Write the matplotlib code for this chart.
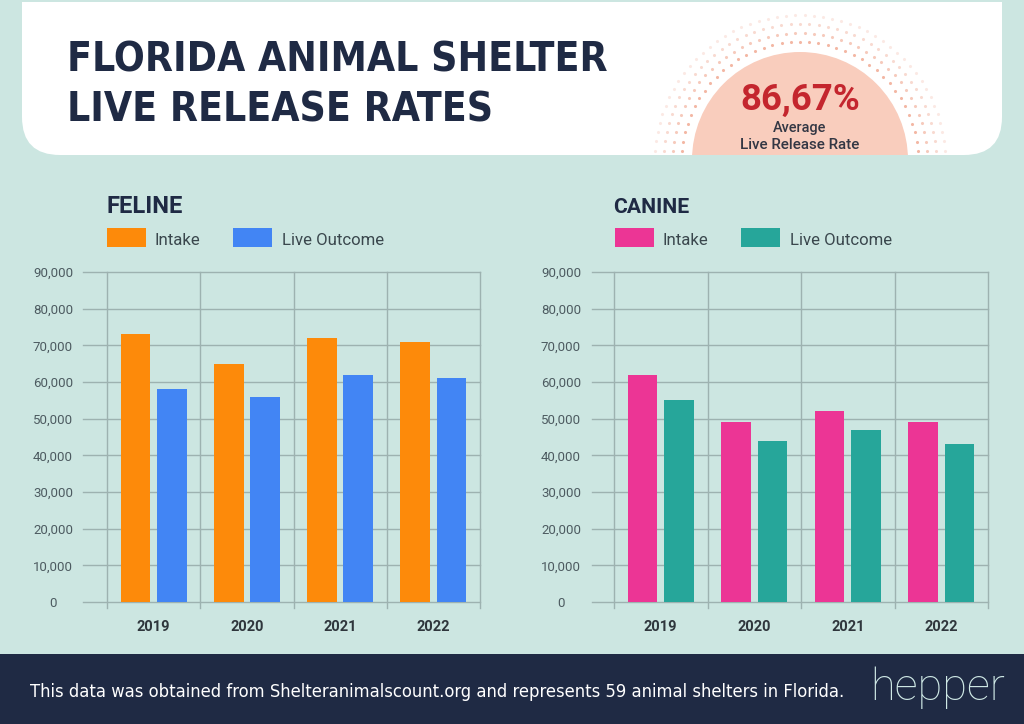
import matplotlib
matplotlib.use('Agg')
import matplotlib.pyplot as plt
import numpy as np
from matplotlib.patches import FancyBboxPatch, Rectangle, Circle

# ---------------- data ----------------
years = ['2019', '2020', '2021', '2022']
feline_intake = [73000, 65000, 72000, 71000]
feline_live = [58000, 56000, 62000, 61000]
canine_intake = [62000, 49000, 52000, 49000]
canine_live = [55000, 44000, 47000, 43000]
y_ticks = [0, 10000, 20000, 30000, 40000, 50000, 60000, 70000, 80000, 90000]
series_labels = ['Intake', 'Live Outcome']
title_lines = ['FLORIDA ANIMAL SHELTER', 'LIVE RELEASE RATES']
avg_rate = '86,67%'
footer = 'This data was obtained from Shelteranimalscount.org and represents 59 animal shelters in Florida.'

# ---------------- style ----------------
W, H = 1024, 724
BG = '#cce6e1'
NAVY = '#1f2a44'
ORANGE = '#fd8a0a'
BLUE = '#4285f4'
PINK = '#ec3595'
TEAL = '#26a69a'
GRID = '#9db2b0'
COND = ['DejaVu Sans']
BODY = ['Roboto', 'DejaVu Sans']

fig = plt.figure(figsize=(W / 100, H / 100), dpi=100)
fig.patch.set_facecolor(BG)
bg = fig.add_axes([0, 0, 1, 1], zorder=0)
bg.set_xlim(0, W)
bg.set_ylim(H, 0)
bg.axis('off')

renderer = fig.canvas.get_renderer()


def fit(t, target_w):
    bb = t.get_window_extent(renderer=renderer)
    t.set_fontsize(t.get_fontsize() * target_w / bb.width)
    return t


# header box
header = FancyBboxPatch((22, -80), 980, 235, boxstyle='round,pad=0,rounding_size=38',
                        fc='white', ec='none', zorder=1)
bg.add_patch(header)
bg.add_patch(Rectangle((0, 0), W, 1.5, fc=BG, ec='none', zorder=2))

# badge
cx, cy, r0 = 800, 160, 108
circ = Circle((cx, cy), r0, fc='#f9cdbd', ec='none', zorder=2)
bg.add_patch(circ)
circ.set_clip_path(header)
for k, (rr, al) in enumerate([(118, 0.75), (127, 0.55), (136, 0.38), (145, 0.22)]):
    n = int(np.pi * rr / 9)
    th = np.linspace(0, np.pi, n)
    sc = bg.scatter(cx + rr * np.cos(th), cy - rr * np.sin(th), s=5, c='#ef9f86',
                    alpha=al, linewidths=0, zorder=2)
    sc.set_clip_path(header)

t = bg.text(800, 110, avg_rate, color='#c4262e', fontsize=26, fontweight='bold',
            family=BODY, ha='center', va='baseline', zorder=3)
fit(t, 120)
t = bg.text(800, 132, 'Average', color='#333744', fontsize=9.5, fontweight='medium',
            family=BODY, ha='center', va='baseline', zorder=3)
fit(t, 54)
t = bg.text(800, 149, 'Live Release Rate', color='#333744', fontsize=9.5, fontweight='medium',
            family=BODY, ha='center', va='baseline', zorder=3)
fit(t, 120)

# title
t1 = bg.text(67, 72, title_lines[0], color=NAVY, fontsize=34, fontweight='bold',
             fontstretch='condensed', family=COND, ha='left', va='baseline', zorder=3)
fit(t1, 540)
t2 = bg.text(67, 122, title_lines[1], color=NAVY, fontsize=t1.get_fontsize(), fontweight='bold',
             fontstretch='condensed', family=COND, ha='left', va='baseline', zorder=3)

# footer
bg.add_patch(Rectangle((0, 654), W, 70, fc=NAVY, ec='none', zorder=1))
t = bg.text(30, 697, footer, color='white', fontsize=12, family=COND, fontstretch='condensed',
            ha='left', va='baseline', zorder=3)
fit(t, 815)
t = bg.text(870, 700, 'hepper', color='#cfe9e6', fontsize=34, fontweight='light',
            family=BODY, ha='left', va='baseline', zorder=3)
fit(t, 135)


def panel(name, x_left, grid_left, x_right, intake, live, colors, label_cx, legend_x):
    # title and legend
    t = bg.text(x_left - 1, 213, name, color=NAVY, fontsize=16, fontweight='bold',
                family=BODY, ha='left', va='baseline', zorder=3)
    fit(t, 76)
    lx = legend_x
    bg.add_patch(Rectangle((lx[0], 228), 39, 19, fc=colors[0], ec='none', zorder=3))
    bg.add_patch(Rectangle((lx[1], 228), 39, 19, fc=colors[1], ec='none', zorder=3))
    ta = bg.text(lx[0] + 48, 245, series_labels[0], color='#3a474d', fontsize=11,
                 family=BODY, ha='left', va='baseline', zorder=3)
    tb = bg.text(lx[1] + 49, 245, series_labels[1], color='#3a474d', fontsize=11,
                 family=BODY, ha='left', va='baseline', zorder=3)
    fit(tb, 102)
    ta.set_fontsize(tb.get_fontsize())

    top_px, zero_px, bot_px = 272, 602, 608
    ax = fig.add_axes([grid_left / W, 1 - bot_px / H, (x_right - grid_left) / W,
                       (bot_px - top_px) / H], zorder=2)
    ax.patch.set_alpha(0)
    cat_w = (x_right - x_left) / 4
    ax.set_xlim(-0.5 - (x_left - grid_left) / cat_w, 3.5)
    ymax = y_ticks[-1]
    ax.set_ylim(-(bot_px - zero_px) * ymax / (zero_px - top_px), ymax)
    for s in ax.spines.values():
        s.set_visible(False)
    for yv in y_ticks:
        ax.axhline(yv, color=GRID, lw=1, zorder=1, clip_on=False)
    for xv in np.arange(-0.5, 4, 1):
        ax.axvline(xv, color=GRID, lw=1, zorder=1, clip_on=False)
    x = np.arange(len(years))
    ax.bar(x - 0.195, intake, width=0.32, color=colors[0], zorder=2)
    ax.bar(x + 0.195, live, width=0.32, color=colors[1], zorder=2)
    ax.set_yticks(y_ticks)
    ax.set_yticklabels([f'{v:,}' for v in y_ticks])
    pad_pt = (grid_left - label_cx) * 0.72
    ax.tick_params(axis='y', length=0, pad=pad_pt, labelsize=9.5, labelcolor='#4d5b61')
    for lab in ax.get_yticklabels():
        lab.set_ha('center')
        lab.set_family(BODY)
    ax.set_xticks(x)
    ax.set_xticklabels(years)
    ax.tick_params(axis='x', length=0, pad=19 * 0.72, labelsize=10.5, labelcolor='#2f363c')
    for lab in ax.get_xticklabels():
        lab.set_va('center')
        lab.set_fontweight('bold')
        lab.set_family(BODY)
    return ax


panel('FELINE', 107, 83, 480, feline_intake, feline_live, (ORANGE, BLUE), 53, (107, 233))
panel('CANINE', 614, 592, 988, canine_intake, canine_live, (PINK, TEAL), 561, (615, 741))

fig.savefig('out.png', dpi=100, facecolor=fig.get_facecolor())
